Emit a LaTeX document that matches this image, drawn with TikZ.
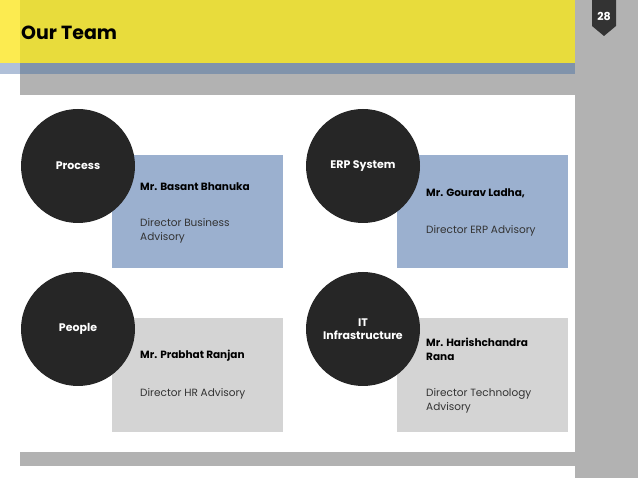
\documentclass[tikz,border=0pt]{standalone}
\usepackage{fontspec}
\setmainfont{Poppins}
\definecolor{ylw}{HTML}{E8DC3C}
\definecolor{ylwl}{HTML}{FCEB50}
\definecolor{bband}{HTML}{8093AB}
\definecolor{bbandl}{HTML}{B0C0D8}
\definecolor{bboxc}{HTML}{9BB0CF}
\definecolor{gry}{HTML}{B2B2B2}
\definecolor{gboxc}{HTML}{D4D4D4}
\begin{document}
\begin{tikzpicture}[x=1pt,y=-1pt,
  circ/.style={circle,minimum size=114pt,inner sep=0pt,fill=black!85,text=white,font=\fontsize{11}{12.5}\selectfont\bfseries,align=center},
  nm/.style={anchor=west,font=\fontsize{10.5}{14}\selectfont\bfseries,align=left,inner sep=0pt},
  tl/.style={anchor=west,font=\fontsize{10.5}{14}\selectfont,align=left,inner sep=0pt,text=black!80}]
\useasboundingbox (0,0) rectangle (638,478);
\fill[white] (0,0) rectangle (638,478);
\fill[gry] (575,0) rectangle (638,478);
\fill[ylwl] (0,0) rectangle (20,63);
\fill[ylw] (20,0) rectangle (575,63);
\fill[bbandl] (0,63) rectangle (20,74);
\fill[bband] (20,63) rectangle (575,74);
\fill[gry] (20,74) rectangle (575,95);
\fill[gry] (20,452) rectangle (575,466);
\fill[black!80] (592,0) -- (616,0) -- (616,26) -- (604,36) -- (592,26) -- cycle;
\node[text=white,font=\fontsize{11}{12}\selectfont\bfseries] (pg) at (604,16) {28};
\node[anchor=west,inner sep=0pt,font=\fontsize{19}{20}\selectfont\bfseries] (title) at (21,33) {Our Team};
\fill[bboxc] (112,155) rectangle (283,268);
\fill[bboxc] (397,155) rectangle (568,268);
\fill[gboxc] (112,318) rectangle (283,432);
\fill[gboxc] (397,318) rectangle (568,432);
\node[circ] (c1) at (78,166) {Process};
\node[circ] (c2) at (363,166) {ERP System};
\node[circ] (c3) at (78,329) {People};
\node[circ] (c4) at (363,329) {IT\\Infrastructure};
\node[nm] (n1) at (140,187) {Mr. Basant Bhanuka};
\node[tl] (t1) at (140,231) {Director Business\\Advisory};
\node[nm] (n2) at (426,193) {Mr. Gourav Ladha,};
\node[tl] (t2) at (426,231) {Director ERP Advisory};
\node[nm] (n3) at (140,356) {Mr. Prabhat Ranjan};
\node[tl] (t3) at (140,394) {Director HR Advisory};
\node[nm] (n4) at (426,349) {Mr. Harishchandra\\Rana};
\node[tl] (t4) at (426,401) {Director Technology\\Advisory};
\end{tikzpicture}
\end{document}
